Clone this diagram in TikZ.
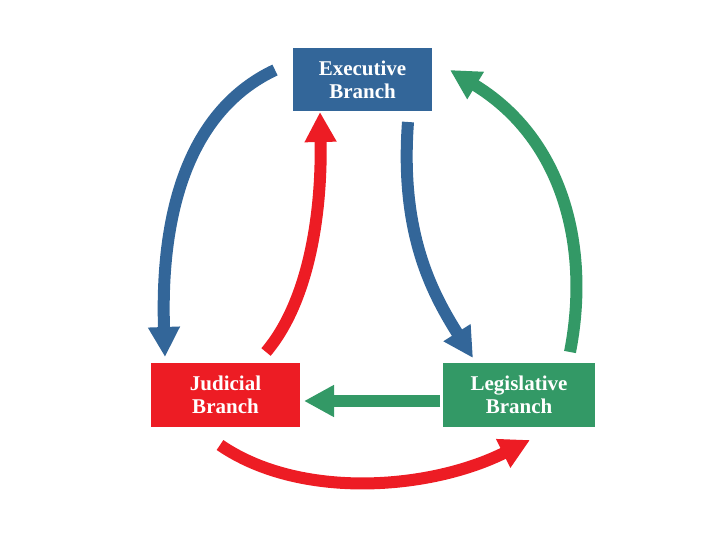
\documentclass[tikz,border=0pt]{standalone}
\usepackage{fontspec}
\setmainfont{Liberation Serif}
\usetikzlibrary{arrows.meta}
\definecolor{eblue}{HTML}{336699}
\definecolor{jred}{HTML}{ED1C24}
\definecolor{lgreen}{HTML}{339966}
\begin{document}
\begin{tikzpicture}[x=1pt,y=-1pt,
  box/.style={draw=none,text=white,font=\bfseries\fontsize{21}{23}\selectfont,align=center,inner sep=0pt},
  arr/.style={line width=12pt,-{Triangle[width=30pt,length=30pt]}}]
\useasboundingbox (0,0) rectangle (720,540);
\node[box,fill=eblue,minimum width=139pt,minimum height=63pt] (exe) at (362.5,79.5) {Executive\\Branch};
\node[box,fill=jred,minimum width=149pt,minimum height=64pt] (jud) at (225.5,395) {Judicial\\Branch};
\node[box,fill=lgreen,minimum width=152pt,minimum height=64pt] (leg) at (519,395) {Legislative\\Branch};
\coordinate (a1) at (275,70); \coordinate (b1) at (165,357);
\coordinate (a2) at (266,352); \coordinate (b2) at (320,112);
\coordinate (a3) at (408,122); \coordinate (b3) at (473,358);
\coordinate (a4) at (570,352); \coordinate (b4) at (450,70);
\coordinate (a5) at (440,401); \coordinate (b5) at (304,401);
\coordinate (a6) at (220,445); \coordinate (b6) at (530,440);
\draw[arr,eblue] (a1) .. controls (190,110) and (160,210) .. (b1);
\draw[arr,jred] (a2) .. controls (310,300) and (322,210) .. (b2);
\draw[arr,eblue] (a3) .. controls (400,230) and (430,290) .. (b3);
\draw[arr,lgreen] (a4) .. controls (590,250) and (565,140) .. (b4);
\draw[arr,lgreen] (a5) -- (b5);
\draw[arr,jred] (a6) .. controls (300,500) and (430,490) .. (b6);
\end{tikzpicture}
\end{document}
